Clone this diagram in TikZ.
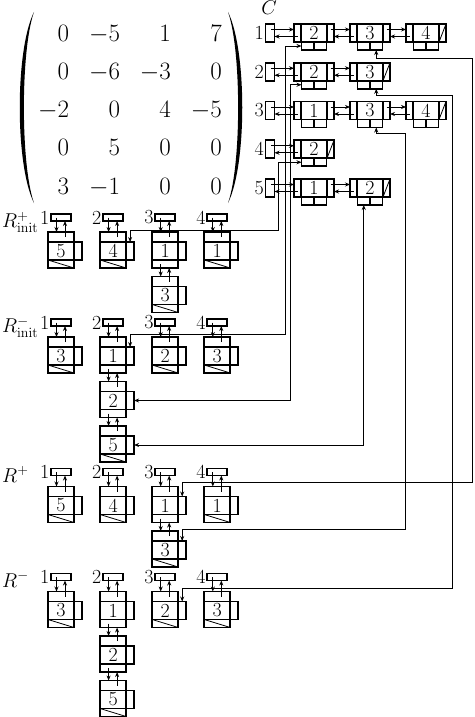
\RequirePackage{fix-cm}
\documentclass[tikz,border=0pt]{standalone}
\usetikzlibrary{matrix}
\usetikzlibrary{arrows.meta}
\usetikzlibrary{positioning}

\newcommand{\numsize}{\fontsize{20}{24}\selectfont}

\begin{document}
\begin{tikzpicture}[x=1pt, y=-1pt,
  box/.style={draw, line width=1.8pt, inner sep=0pt, outer sep=0pt},
  chead/.style={box, minimum width=9pt, minimum height=18pt},
  celem/.style={box, minimum width=40pt, minimum height=18pt, font=\numsize},
  cbot/.style={box, minimum width=25pt, minimum height=8pt},
  rhead/.style={box, minimum width=20pt, minimum height=7pt},
  mug/.style={box, minimum width=26pt, minimum height=18pt, font=\numsize},
  rtop/.style={box, minimum width=26pt, minimum height=10pt},
  rbot/.style={box, minimum width=26pt, minimum height=8pt},
  handle/.style={box, minimum width=8pt, minimum height=18pt},
  ptr/.style={-{Stealth[length=5pt, width=4pt]}, line width=0.8pt},
  link/.style={{Stealth[length=5pt, width=4pt]}-{Stealth[length=5pt, width=4pt]}, line width=0.8pt},
  ]

  \useasboundingbox (0,0) rectangle (474,717);

  % the matrix
  \matrix (mat) [matrix of math nodes,
    nodes={anchor=base east, inner sep=0pt, text height=16pt, text depth=5pt, font=\fontsize{25}{30}\selectfont},
    row sep=17.3pt, column sep=20pt,
    matrix anchor=mat-1-4.base east] at (222,41)
  {
    0 & -5 & 1 & 7 \\
    0 & -6 & -3 & 0 \\
    -2 & 0 & 4 & -5 \\
    0 & 5 & 0 & 0 \\
    3 & -1 & 0 & 0 \\
  };
  % parentheses
  \fill (34,12) .. controls (15,50) and (15,165) .. (34,203)
    .. controls (20.5,165) and (20.5,50) .. (34,12) -- cycle;
  \fill (228,12) .. controls (247,50) and (247,165) .. (228,203)
    .. controls (241.5,165) and (241.5,50) .. (228,12) -- cycle;

  % row lists C
  \node[font=\numsize] (clab) at (269,8) {$C$};
  \foreach \r/\cols/\last in {1/{2,3,4}/4, 2/{2,3}/3, 3/{1,3,4}/4, 4/{2}/2, 5/{1,2}/2} {
    \node[chead] (c\r-0) at (270, 33+38.75*\r-38.75) {};
    \node[left=1.5pt of c\r-0, font=\numsize, inner sep=0pt] (c\r-lab) {\r};
    \foreach \c [count=\k, remember=\c as \p (initially 0)] in \cols {
      \node[celem] (c\r-\c) at (314+56*\k-56, 33+38.75*\r-38.75) {\c};
      \node[cbot, below=0pt of c\r-\c] (c\r-\c-b) {};
      \draw[line width=1.8pt] ([xshift=7pt]c\r-\c.north west) -- ([xshift=7pt]c\r-\c.south west);
      \draw[line width=1.8pt] ([xshift=-7pt]c\r-\c.north east) -- ([xshift=-7pt]c\r-\c.south east);
      \draw[line width=1.8pt] (c\r-\c-b.north) -- (c\r-\c-b.south);
      \draw[ptr] ([xshift=-3.5pt, yshift=3.5pt]c\r-\p.east) -- ([yshift=3.5pt]c\r-\c.west);
      \draw[ptr] ([xshift=3.5pt, yshift=-3.5pt]c\r-\c.west) -- ([yshift=-3.5pt]c\r-\p.east);
      \ifnum\c=\last
        \draw[line width=0.8pt] ([xshift=-7pt]c\r-\c.south east) -- (c\r-\c.north east);
      \fi
    }
  }

  % column lists R
  \foreach \g/\hy/\lab/\lists in {
      pi/217.5/{$R^+_{\mathrm{init}}$}/{1/{5}/5, 2/{4}/4, 3/{1,3}/3, 4/{1}/1},
      mi/322.5/{$R^-_{\mathrm{init}}$}/{1/{3}/3, 2/{1,2,5}/5, 3/{2}/2, 4/{3}/3},
      p/472/{$R^+$}/{1/{5}/5, 2/{4}/4, 3/{1,3}/3, 4/{1}/1},
      m/577/{$R^-$}/{1/{3}/3, 2/{1,2,5}/5, 3/{2}/2, 4/{3}/3}} {
    \node[anchor=base west, font=\numsize, inner sep=0pt] (\g-lab) at (2,\hy+10) {\lab};
    \foreach \j/\rows/\last in \lists {
      \node[rhead, alias=\g-\j-0-b] (\g-\j) at (61+52.1*\j-52.1, \hy) {};
      \node[left=1.5pt of \g-\j, font=\numsize, inner sep=0pt] (\g-\j-lab) {\j};
      \foreach \r [remember=\r as \p (initially 0)] in \rows {
        \pgfmathsetmacro{\gap}{\p==0 ? 21 : 18.5}
        \node[mug, below=\gap pt of \g-\j-\p-b] (\g-\j-\r) {\r};
        \node[rtop, above=0pt of \g-\j-\r] (\g-\j-\r-t) {};
        \node[rbot, below=0pt of \g-\j-\r] (\g-\j-\r-b) {};
        \node[handle, right=0pt of \g-\j-\r] (\g-\j-\r-h) {};
        \draw[ptr] ([xshift=-4.5pt]\g-\j-\p-b.center) -- ([xshift=-4.5pt]\g-\j-\r-t.north);
        \draw[ptr] ([xshift=4pt]\g-\j-\r-t.center) -- ([xshift=4pt]\g-\j-\p-b.south);
        \ifnum\r=\last
          \draw[line width=0.8pt] (\g-\j-\r-b.north west) -- (\g-\j-\r-b.south east);
        \fi
      }
    }
  }

  % links from the entries of C to the lists R
  \draw[link] (c4-2-b.west) -| (278,230) -| (pi-2-4-h.north);
  \draw[link] (c1-2-b.west) -| (285,334) -| (mi-2-1-h.north);
  \draw[link] (c2-2-b.west) -- ++(-11.5,0) |- (mi-2-2-h.east);
  \draw[link] ([xshift=-6.25pt]c5-2-b.south) |- (mi-2-5-h.east);
  \draw[link] ([xshift=6.25pt]c1-3-b.south) -- ++(0,8) -| (472,482) -| (p-3-1-h.north);
  \draw[link] ([xshift=6.25pt]c3-3-b.south) -- ++(0,6) -| (405,529) -| (p-3-3-h.north);
  \draw[link] ([xshift=6.25pt]c2-3-b.south) -- ++(0,7) -| (452,588) -| (m-3-2-h.north);

\end{tikzpicture}
\end{document}
